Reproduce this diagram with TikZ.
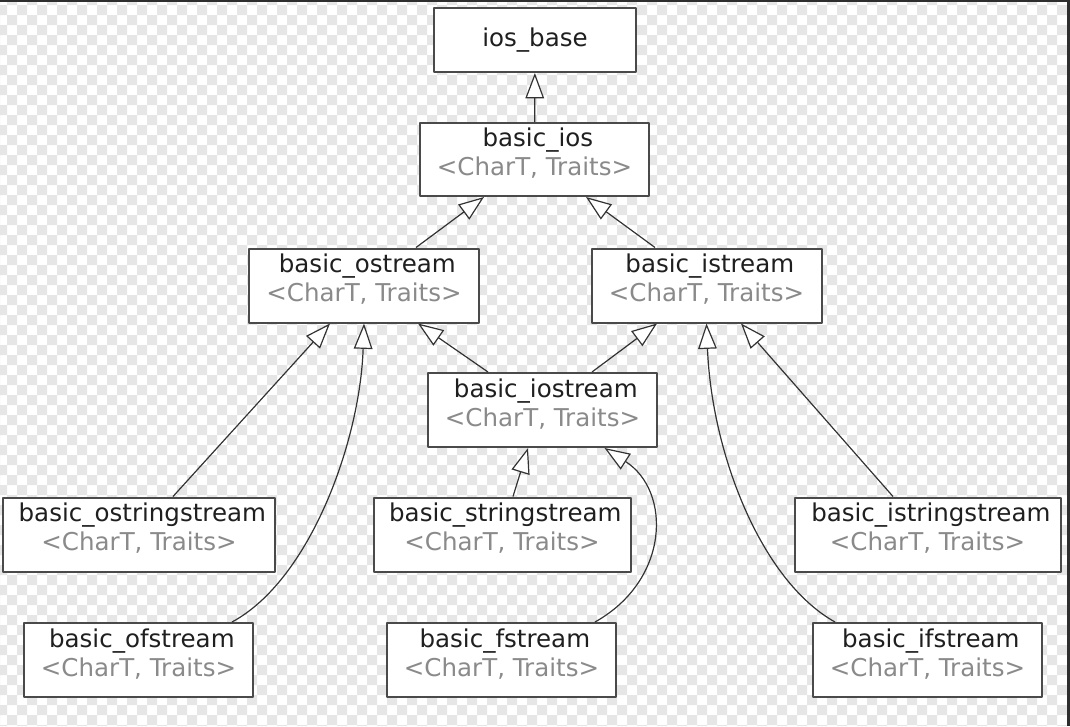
\documentclass[tikz,border=0pt]{standalone}
\usepackage{fontspec}
\setmainfont{DejaVu Sans}
\usetikzlibrary{arrows.meta, calc}
\definecolor{boxline}{HTML}{4A4A4A}
\definecolor{linkline}{HTML}{333333}
\definecolor{tmplgray}{HTML}{8A8A8A}
\definecolor{checker}{HTML}{E6E6E6}
\definecolor{framedark}{HTML}{2E2E2E}
\tikzset{>={Triangle[fill=white, length=19pt, width=14pt]}}
\tikzset{cls/.style={draw=boxline, line width=1.5pt, fill=white,
    minimum width=171.75pt, minimum height=55.5pt, inner sep=0pt,
    text height=14pt, text depth=32.8pt,
    font=\fontsize{18.4}{21.75}\selectfont, text=black!88}
}
\tikzset{inh/.style={->, linkline, line width=0.9pt}}
\newcommand{\tmpl}{\textcolor{tmplgray}{<CharT, Traits>}}
\newcommand{\clsname}[1]{\begin{tabular}[t]{@{}c@{}}\hspace{5pt}#1\\\tmpl\end{tabular}}

\begin{document}
\begin{tikzpicture}[x=0.75pt, y=-0.75pt, line join=round]

\useasboundingbox (0,0) rectangle (1070,726);

% checker background
\begin{scope}
    \clip (0,0) rectangle (1070,726);
    \fill[checker, even odd rule] \foreach \k in {-3,17,...,1067} {(\k,0) rectangle ++(10,726)}
        \foreach \j in {-5,15,...,725} {(0,\j) rectangle ++(1070,10)};
\end{scope}
\fill[framedark] (0,0) rectangle (1070,2);
\fill[framedark] (1067,0) rectangle (1070,726);

\node[cls, minimum width=151.5pt, minimum height=48pt, text depth=5pt] (iosbase) at (535,40) {ios\_base};
\node[cls, minimum height=54.75pt] (ios) at (534.5,159.5) {\clsname{basic\_ios}};

\node[cls, minimum width=172.5pt] (ostream) at (364,285.5) {\clsname{basic\_ostream}};
\node[cls, minimum width=172.5pt] (istream) at (706.5,285.5) {\clsname{basic\_istream}};
\node[cls] (iostream) at (542.5,410) {\clsname{basic\_iostream}};

\node[cls, minimum width=204pt] (ostrstream) at (139,534.5) {\clsname{basic\_ostringstream}};
\node[cls, minimum width=192.75pt] (strstream) at (502,534.5) {\clsname{basic\_stringstream}};
\node[cls, minimum width=199.5pt] (istrstream) at (927.5,534.5) {\clsname{basic\_istringstream}};

\node[cls] (ofstream) at (138.5,660) {\clsname{basic\_ofstream}};
\node[cls] (fstream) at (501.5,660) {\clsname{basic\_fstream}};
\node[cls] (ifstream) at (927.5,660) {\clsname{basic\_ifstream}};

\draw[inh] (ios) -- (iosbase);
\draw[inh] ($(ostream.north)+(52,0)$) -- ($(ios.south)+(-50.5,0)$);
\draw[inh] ($(istream.north)+(-51.5,0)$) -- ($(ios.south)+(51.5,0)$);

\draw[inh] ($(iostream.north)+(-54.5,0)$) -- ($(ostream.south)+(54,0)$);
\draw[inh] ($(iostream.north)+(49.5,0)$) -- ($(istream.south)+(-49.5,0)$);

\draw[inh] ($(ostrstream.north)+(34,0)$) -- ($(ostream.south)+(-34,0)$);
\draw[inh] ($(ofstream.north)+(93.5,0)$) .. controls +(78,-42) and +(-4,118) .. (ostream.south);

\draw[inh] ($(strstream.north)+(11,0)$) -- ($(iostream.south)+(-14.5,0)$);
\draw[inh] ($(fstream.north)+(93.5,0)$) .. controls +(75,-42) and +(67,43) .. ($(iostream.south)+(62,0)$);

\draw[inh] ($(istrstream.north)+(-34.5,0)$) -- ($(istream.south)+(34.5,0)$);
\draw[inh] ($(ifstream.north)+(-92.5,0)$) .. controls +(-75,-42) and +(5,128) .. (istream.south);

\end{tikzpicture}
\end{document}
